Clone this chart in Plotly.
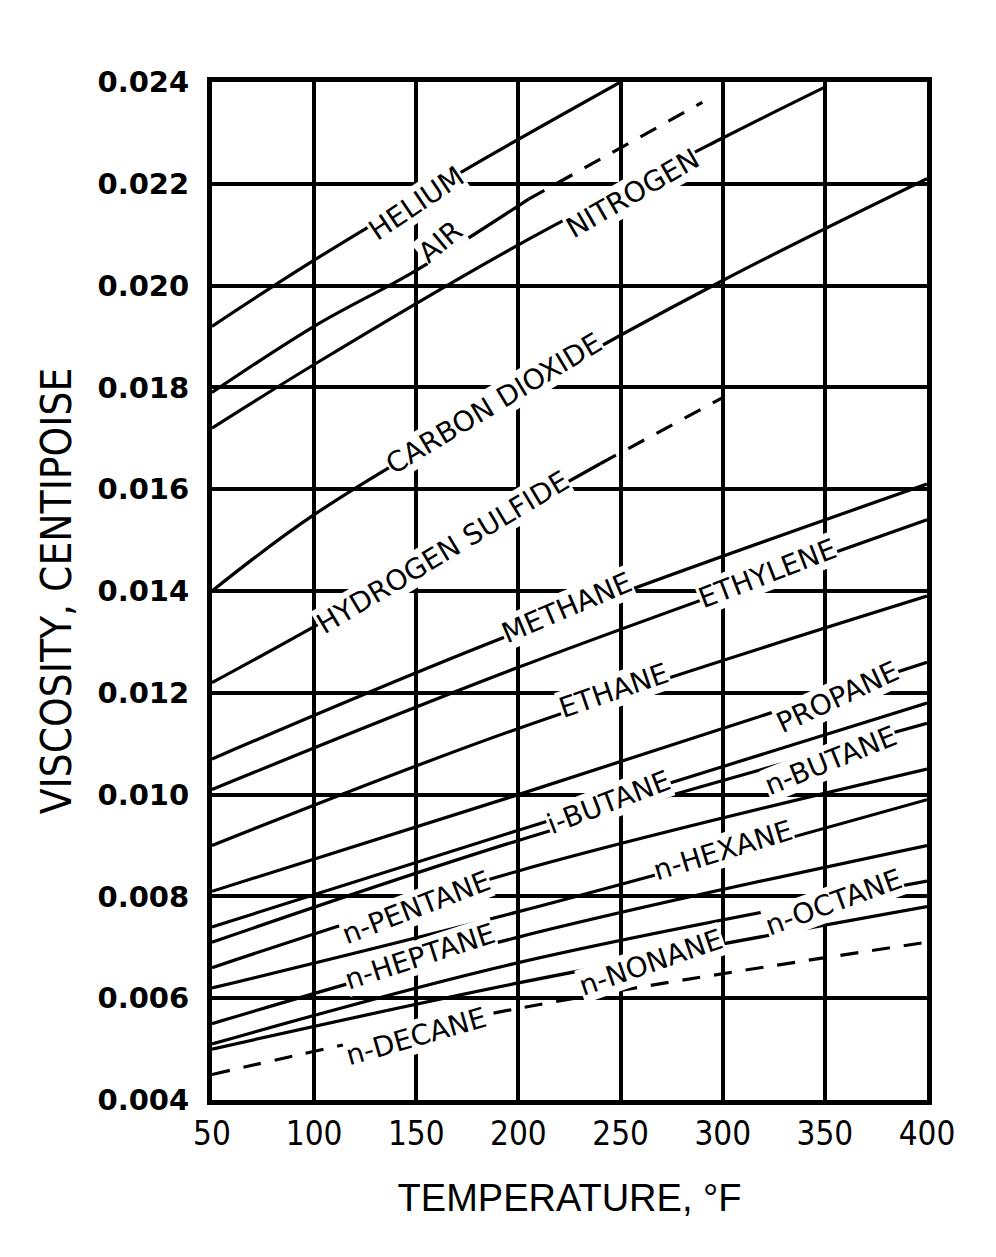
import plotly.graph_objects as go

# temperatures (deg F) and viscosities (cP)
t_hc = [50, 200, 400]
methane = [0.0107, 0.0132, 0.0161]
ethylene = [0.0101, 0.0125, 0.0154]
ethane = [0.0090, 0.0113, 0.0139]
propane = [0.0081, 0.0100, 0.0126]
i_butane = [0.0074, 0.0093, 0.0118]
n_butane = [0.0071, 0.0091, 0.0114]
n_pentane = [0.0066, 0.0085, 0.0105]
n_hexane = [0.0062, 0.0077, 0.0099]
n_heptane = [0.0055, 0.0072, 0.0090]
n_octane = [0.0051, 0.0067, 0.0083]
n_nonane = [0.0050, 0.0063, 0.0078]
n_decane = [0.0045, 0.0058, 0.0071]

t_helium = [50, 100, 175, 250]
helium = [0.0192, 0.0205, 0.0223, 0.0240]
t_air = [50, 100, 150, 205]
air = [0.0179, 0.0192, 0.0203, 0.0217]
t_air_ext = [205, 290]
air_ext = [0.0217, 0.0236]
t_nitrogen = [50, 100, 200, 300, 350]
nitrogen = [0.0172, 0.01845, 0.0208, 0.0229, 0.0239]
t_co2 = [50, 100, 200, 300, 400]
co2 = [0.0140, 0.0155, 0.0179, 0.0201, 0.0221]
t_h2s = [50, 100, 200, 240]
h2s = [0.0122, 0.0133, 0.0156, 0.0165]
t_h2s_ext = [240, 300]
h2s_ext = [0.0165, 0.0178]

x_ticks = [50, 100, 150, 200, 250, 300, 350, 400]
y_ticks = [0.004, 0.006, 0.008, 0.010, 0.012, 0.014, 0.016, 0.018, 0.020, 0.022, 0.024]

solid = [
    (t_helium, helium), (t_air, air), (t_nitrogen, nitrogen), (t_co2, co2), (t_h2s, h2s),
    (t_hc, methane), (t_hc, ethylene), (t_hc, ethane), (t_hc, propane), (t_hc, i_butane),
    (t_hc, n_butane), (t_hc, n_pentane), (t_hc, n_hexane), (t_hc, n_heptane),
    (t_hc, n_octane), (t_hc, n_nonane),
]
dashed = [(t_air_ext, air_ext), (t_h2s_ext, h2s_ext), (t_hc, n_decane)]

# label text, position (deg F, cP), angle
labels = [
    ("HELIUM", 150, 0.02161, 34),
    ("AIR", 162, 0.02086, 40),
    ("NITROGEN", 256, 0.02180, 30),
    ("CARBON DIOXIDE", 188, 0.01769, 31),
    ("HYDROGEN SULFIDE", 163, 0.01475, 31),
    ("METHANE", 224, 0.01367, 23),
    ("ETHYLENE", 322, 0.01434, 21),
    ("ETHANE", 247, 0.01204, 19),
    ("PROPANE", 356, 0.01191, 25),
    ("i-BUTANE", 244, 0.00985, 21),
    ("n-BUTANE", 353, 0.01067, 22),
    ("n-HEXANE", 300, 0.00891, 17),
    ("n-PENTANE", 150, 0.00779, 21),
    ("n-HEPTANE", 152, 0.00681, 18),
    ("n-OCTANE", 354, 0.00789, 20),
    ("n-NONANE", 265, 0.00671, 19),
    ("n-DECANE", 150, 0.00524, 16),
]

fig = go.Figure()
for t, v in solid:
    fig.add_trace(go.Scatter(x=t, y=v, mode="lines", line=dict(color="black", width=3.2, shape="spline")))
for t, v in dashed:
    fig.add_trace(go.Scatter(x=t, y=v, mode="lines",
                             line=dict(color="black", width=3.2, dash="18px,14px", shape="spline")))

label_font = dict(family="DejaVu Sans, sans-serif", size=28, color="black")
for text, tx, ty, ang in labels:
    fig.add_annotation(x=tx, y=ty, xref="x", yref="y", text=text, showarrow=False,
                       textangle=-ang, font=label_font, bgcolor="white", borderpad=0)

narrow = "Liberation Sans Narrow, DejaVu Sans Condensed, Arial Narrow, sans-serif"
fig.update_xaxes(range=[50, 400], tickvals=x_ticks, ticktext=[str(t) for t in x_ticks],
                 showgrid=True, gridcolor="black", gridwidth=4,
                 showline=True, linecolor="black", linewidth=5, mirror=True,
                 ticks="", zeroline=False, ticklabelstandoff=0,
                 tickfont=dict(family=narrow, size=33, color="black"),
                 title=dict(text="TEMPERATURE, °F", standoff=34,
                            font=dict(family="Liberation Sans, Arial, sans-serif", size=38, color="black")))
fig.update_yaxes(range=[0.004, 0.024], tickvals=y_ticks, ticktext=["%.3f" % v for v in y_ticks],
                 showgrid=True, gridcolor="black", gridwidth=4,
                 showline=True, linecolor="black", linewidth=5, mirror=True,
                 ticks="", zeroline=False, ticklabelstandoff=12,
                 tickfont=dict(family="DejaVu Sans, sans-serif", size=29, color="black", weight="bold"),
                 title=dict(text="VISCOSITY, CENTIPOISE", standoff=14,
                            font=dict(family=narrow, size=42, color="black")))

fig.update_layout(width=988, height=1249, showlegend=False,
                  paper_bgcolor="white", plot_bgcolor="white",
                  margin=dict(l=204, r=69, t=74, b=157))

fig.write_html("out.html")
